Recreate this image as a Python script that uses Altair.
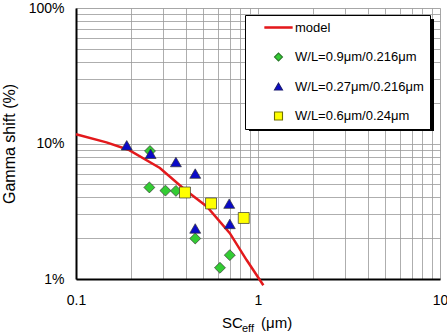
import altair as alt
import pandas as pd

RED = "#e3191c"
GREEN = "#33cc33"
BLUE = "#0a0ac8"
YELLOW = "#ffff00"

model_x = [0.1, 0.147, 0.194, 0.289, 0.397, 0.523, 0.70, 0.866, 1.07]
model_y = [11.7, 10.2, 9.0, 6.6, 4.56, 3.43, 2.18, 1.38, 0.90]

green_x = [0.255, 0.253, 0.31, 0.354, 0.452, 0.618, 0.70]
green_y = [8.8, 4.74, 4.49, 4.47, 1.99, 1.21, 1.5]

blue_x = [0.19, 0.257, 0.354, 0.452, 0.695, 0.70, 0.452]
blue_y = [9.7, 8.4, 7.3, 6.0, 3.6, 2.55, 2.36]

yellow_x = [0.397, 0.552, 0.835]
yellow_y = [4.35, 3.61, 2.82]

series_names = ["model", "W/L=0.9\u03bcm/0.216\u03bcm", "W/L=0.27\u03bcm/0.216\u03bcm", "W/L=0.6\u03bcm/0.24\u03bcm"]
fill_colors = [RED, GREEN, BLUE, YELLOW]
edge_colors = [RED, "#2a7a2a", "#1a1a70", "#707000"]
series_shapes = ["M-3.4,-0.15H3.4V0.15H-3.4Z", "diamond", "triangle-up", "square"]

x_ticks = [0.1, 0.2, 0.3, 0.4, 0.5, 0.6, 0.7, 0.8, 0.9, 1, 2, 3, 4, 5, 6, 7, 8, 9, 10]
y_ticks = [1, 2, 3, 4, 5, 6, 7, 8, 9, 10, 20, 30, 40, 50, 60, 70, 80, 90, 100]

model_df = pd.DataFrame({"x": model_x, "y": model_y, "series": series_names[0]})
pts_df = pd.concat([
    pd.DataFrame({"x": green_x, "y": green_y, "series": series_names[1]}),
    pd.DataFrame({"x": blue_x, "y": blue_y, "series": series_names[2]}),
    pd.DataFrame({"x": yellow_x, "y": yellow_y, "series": series_names[3]}),
], ignore_index=True)

FONT = "Liberation Sans"

xscale = alt.Scale(type="log", domain=[0.1, 10], nice=False)
yscale = alt.Scale(type="log", domain=[1, 100], nice=False)

xaxis = alt.Axis(values=x_ticks, title=None, ticks=False, labelPadding=14,
                 labelExpr="indexof([0.1,1,10], datum.value) >= 0 ? datum.label : ''",
                 format="~g", labelFontSize=14, labelColor="black", labelFont=FONT,
                 grid=True, gridColor="#999999", gridWidth=0.8,
                 domainColor="black", domainWidth=2, labelFlush=False)
yaxis = alt.Axis(values=y_ticks, title="Gamma shift (%)", ticks=False, labelPadding=12,
                 labelExpr="indexof([1,10,100], datum.value) >= 0 ? datum.value + '%' : ''",
                 labelFontSize=14, labelColor="black", labelFont=FONT,
                 titleFontSize=16, titleFont=FONT, titleFontWeight="normal", titleColor="black",
                 titlePadding=11, grid=True, gridColor="#999999", gridWidth=0.8,
                 domainColor="black", domainWidth=2, labelFlush=False)

fill_scale = alt.Scale(domain=series_names, range=fill_colors)
stroke_scale = alt.Scale(domain=series_names, range=edge_colors)
shape_scale = alt.Scale(domain=series_names, range=series_shapes)

legend = alt.Legend(
    title=None, orient="none", legendX=169, legendY=7,
    fillColor="white", strokeColor="black", padding=6,
    labelFont=FONT, labelFontSize=13, labelColor="black",
    symbolSize=64, symbolOffset=21, labelOffset=10,
    rowPadding=15.5, symbolStrokeWidth=1.1, symbolOpacity=1,
)

shadow = alt.Chart(pd.DataFrame({"a": [0]})).mark_rect(color="black").encode(
    x=alt.value(173), x2=alt.value(358), y=alt.value(11), y2=alt.value(123))

line = alt.Chart(model_df).mark_line(color=RED, strokeWidth=2.5, clip=False).encode(
    x=alt.X("x:Q", scale=xscale, axis=xaxis),
    y=alt.Y("y:Q", scale=yscale, axis=yaxis),
)

points = alt.Chart(pts_df).mark_point(filled=True, size=120, opacity=1, stroke="#333333", strokeWidth=0.7).encode(
    x=alt.X("x:Q", scale=xscale),
    y=alt.Y("y:Q", scale=yscale),
    fill=alt.Fill("series:N", scale=fill_scale, legend=legend),
    shape=alt.Shape("series:N", scale=shape_scale, legend=legend),
)

legend_layer = alt.Chart(pts_df).transform_filter("false").mark_point(opacity=1).encode(
    x=alt.X("x:Q", scale=xscale),
    y=alt.Y("y:Q", scale=yscale),
    fill=alt.Fill("series:N", scale=fill_scale, legend=legend),
    stroke=alt.Stroke("series:N", scale=stroke_scale, legend=legend),
    shape=alt.Shape("series:N", scale=shape_scale, legend=legend),
)

one = pd.DataFrame({"a": [0]})
t1 = alt.Chart(one).mark_text(text="SC", align="left", baseline="alphabetic", fontSize=15, font=FONT, color="black").encode(
    x=alt.value(146), y=alt.value(320))
t2 = alt.Chart(one).mark_text(text="eff", align="left", baseline="alphabetic", fontSize=11, font=FONT, color="black").encode(
    x=alt.value(166), y=alt.value(324))
t3 = alt.Chart(one).mark_text(text="(\u03bcm)", align="left", baseline="alphabetic", fontSize=15, font=FONT, color="black").encode(
    x=alt.value(185), y=alt.value(320))

chart = alt.layer(line, points, legend_layer, shadow, t1, t2, t3).properties(
    width=364, height=271,
    autosize=alt.AutoSizeParams(type="none"),
    padding={"left": 76, "top": 8, "right": 7, "bottom": 54},
).configure_view(stroke="#444444", strokeWidth=1).configure(background="white")

chart.save("out.html", embed_options={"renderer": "svg", "actions": False})
